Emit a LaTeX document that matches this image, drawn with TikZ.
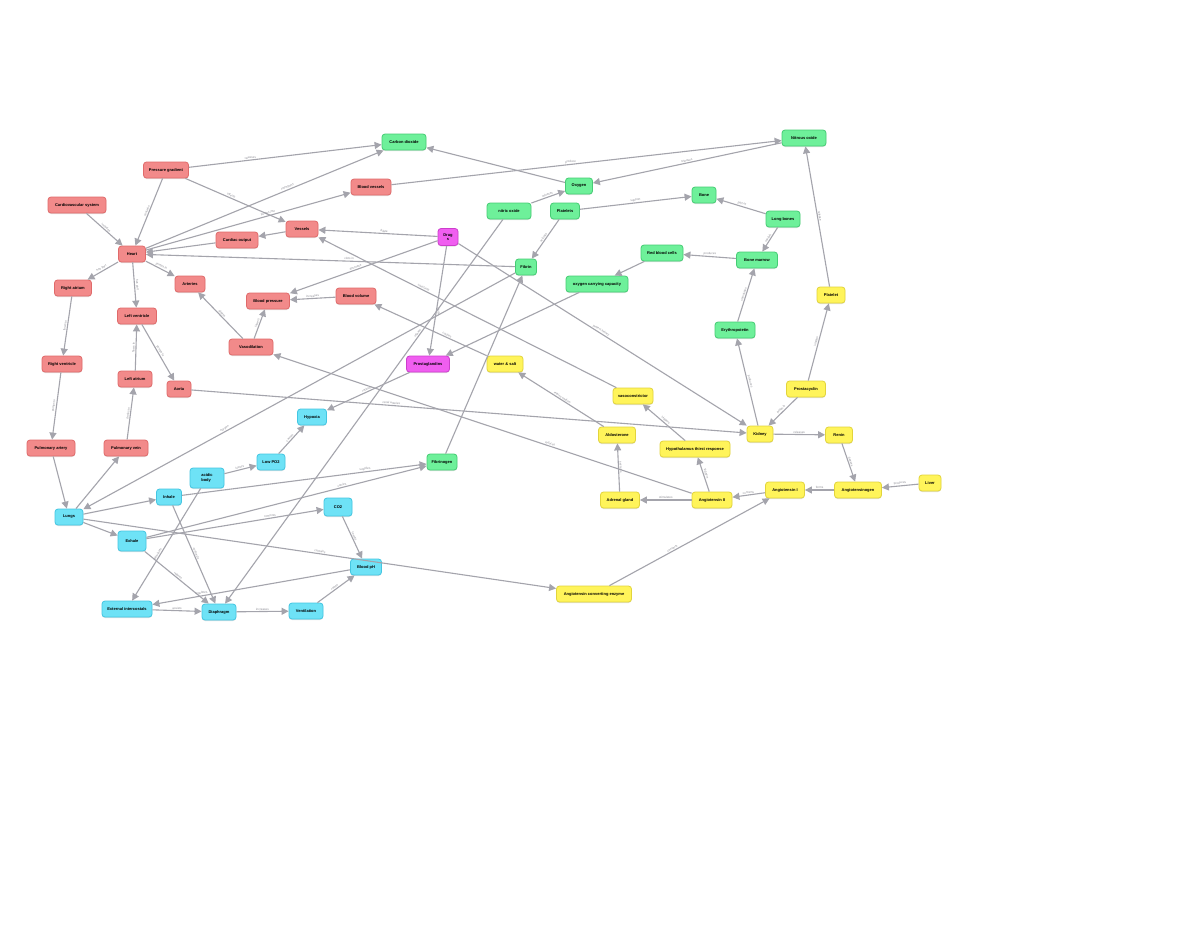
\documentclass[tikz,border=0pt]{standalone}
\usepackage{fontspec}
\setmainfont{Liberation Sans}
\usetikzlibrary{arrows.meta,shadows}
\definecolor{redf}{HTML}{F28A8A}
\definecolor{redd}{HTML}{E06A6A}
\definecolor{grnf}{HTML}{6EF09A}
\definecolor{grnd}{HTML}{46CC74}
\definecolor{yelf}{HTML}{FFF45A}
\definecolor{yeld}{HTML}{E2D43C}
\definecolor{cyaf}{HTML}{6EE2F6}
\definecolor{cyad}{HTML}{44C6E2}
\definecolor{magf}{HTML}{F05EF0}
\definecolor{magd}{HTML}{CC3ECC}
\definecolor{edgec}{HTML}{A4A4AC}
\definecolor{labc}{HTML}{8C8C94}
\begin{document}
\begin{tikzpicture}[x=0.5pt,y=-0.5pt,
 box/.style={rectangle,rounded corners=1.5pt,line width=0.4pt,minimum height=8pt,inner sep=0.5pt,
   font=\fontsize{2}{2.3}\selectfont\bfseries,text=black,align=center,
   drop shadow={shadow xshift=0pt,shadow yshift=-0.5pt,fill=black,opacity=0.12}},
 rbox/.style={box,fill=redf,draw=redd},
 gbox/.style={box,fill=grnf,draw=grnd},
 ybox/.style={box,fill=yelf,draw=yeld},
 cbox/.style={box,fill=cyaf,draw=cyad},
 mbox/.style={box,fill=magf,draw=magd},
 con/.style={draw=edgec,line width=0.55pt,-{Triangle[length=3.5pt,width=3.5pt]}},
 lab/.style={sloped,above,font=\fontsize{1.5}{1.7}\selectfont,text=labc,inner sep=0.4pt}
]
\useasboundingbox (0,0) rectangle (1200,927);
\fill[white] (0,0) rectangle (1200,927);

% red nodes
\node[rbox,minimum width=22.5pt] (pc) at (166,170) {Pressure gradient};
\node[rbox,minimum width=29pt] (cvs) at (77,205) {Cardiovascular system};
\node[rbox,minimum width=13.5pt] (heart) at (132,254) {Heart};
\node[rbox,minimum width=18.5pt] (ra) at (73,288) {Right atrium};
\node[rbox,minimum width=15pt] (art) at (190,284) {Arteries};
\node[rbox,minimum width=21pt] (co) at (237,240) {Cardiac output};
\node[rbox,minimum width=16pt] (ves) at (302,229) {Vessels};
\node[rbox,minimum width=20pt] (bv) at (371,187) {Blood vessels};
\node[rbox,minimum width=21.5pt] (bp) at (268,301) {Blood pressure};
\node[rbox,minimum width=20pt] (bvol) at (356,296) {Blood volume};
\node[rbox,minimum width=22pt] (vd) at (251,347) {Vasodilation};
\node[rbox,minimum width=19.5pt] (lv) at (137,316) {Left ventricle};
\node[rbox,minimum width=20pt] (rv) at (62,364) {Right ventricle};
\node[rbox,minimum width=17pt] (la) at (135,379) {Left atrium};
\node[rbox,minimum width=12pt] (ao) at (179,389) {Aorta};
\node[rbox,minimum width=24pt] (pa) at (51,448) {Pulmonary artery};
\node[rbox,minimum width=22pt] (pv) at (126,448) {Pulmonary vein};

% magenta nodes
\node[mbox,minimum width=10pt,minimum height=8.5pt] (drugs) at (448,237) {Drug\\s};
\node[mbox,minimum width=21.5pt] (prost) at (428,364) {Prostaglandins};

% green nodes
\node[gbox,minimum width=22pt] (co2) at (404,142) {Carbon dioxide};
\node[gbox,minimum width=22pt] (no2) at (804,138) {Nitrous oxide};
\node[gbox,minimum width=13.5pt] (oxy) at (579,186) {Oxygen};
\node[gbox,minimum width=22pt] (nio) at (509,211) {nitric oxide};
\node[gbox,minimum width=14.5pt] (plt) at (565,211) {Platelets};
\node[gbox,minimum width=12pt] (bone) at (704,195) {Bone};
\node[gbox,minimum width=10.5pt] (fib) at (526,267) {Fibrin};
\node[gbox,minimum width=21pt] (rbc) at (662,253) {Red blood cells};
\node[gbox,minimum width=31pt] (occ) at (597,284) {oxygen carrying capacity};
\node[gbox,minimum width=17pt] (lb) at (783,219) {Long bones};
\node[gbox,minimum width=20.5pt] (bm) at (757,260) {Bone marrow};
\node[gbox,minimum width=20pt] (epo) at (735,330) {Erythropoietin};
\node[gbox,minimum width=15pt] (fbg) at (442,462) {Fibrinogen};

% yellow nodes
\node[ybox,minimum width=14pt] (ypl) at (831,295) {Platelet};
\node[ybox,minimum width=19.5pt] (pgl) at (806,389) {Prostacyclin};
\node[ybox,minimum width=13pt] (kid) at (760,434) {Kidney};
\node[ybox,minimum width=13.5pt] (ren) at (839,435) {Renin};
\node[ybox,minimum width=18pt] (ws) at (505,364) {water \& salt};
\node[ybox,minimum width=20pt] (vc) at (633,396) {vasoconstrictor};
\node[ybox,minimum width=18.5pt] (ald) at (617,435) {Aldosterone};
\node[ybox,minimum width=35pt] (hyp) at (695,449) {Hypothalamus thirst response};
\node[ybox,minimum width=19.5pt] (adr) at (620,500) {Adrenal gland};
\node[ybox,minimum width=20pt] (a2) at (712,500) {Angiotensin II};
\node[ybox,minimum width=19.5pt] (a1) at (785,490) {Angiotensin I};
\node[ybox,minimum width=23.5pt] (agt) at (858,490) {Angiotensinogen};
\node[ybox,minimum width=11pt] (liv) at (930,483) {Liver};
\node[ybox,minimum width=37.5pt] (ace) at (594,594) {Angiotensin converting enzyme};

% cyan nodes
\node[cbox,minimum width=14.5pt] (hpx) at (312,417) {Hypoxia};
\node[cbox,minimum width=14pt] (lpo) at (271,462) {Low PO2};
\node[cbox,minimum width=17pt,minimum height=10pt,align=left] (acid) at (207,478) {acidic\\body};
\node[cbox,minimum width=12.5pt] (inh) at (169,497) {Inhale};
\node[cbox,minimum width=14pt] (lungs) at (69,517) {Lungs};
\node[cbox,minimum width=14pt,minimum height=9pt] (pco) at (338,507) {CO2};
\node[cbox,minimum width=14pt,minimum height=10pt] (exh) at (132,541) {Exhale};
\node[cbox,minimum width=15.5pt] (ph) at (366,567) {Blood pH};
\node[cbox,minimum width=17pt] (vent) at (306,611) {Ventilation};
\node[cbox,minimum width=17pt] (dia) at (219,612) {Diaphragm};
\node[cbox,minimum width=25pt] (icm) at (127,609) {External intercostals};

% connectors
\draw[con] (pc) -- node[lab,pos=0.32]{releases} (co2);
\draw[con] (pc) -- node[lab]{contains} (heart);
\draw[con] (pc) -- node[lab,pos=0.45]{affects} (ves);
\draw[con] (cvs) -- node[lab]{includes} (heart);
\draw[con] (heart) -- node[lab,pos=0.6]{transports} (co2);
\draw[con] (heart) -- node[lab,pos=0.6]{pumps into} (bv);
\draw[con] (co) -- (heart);
\draw[con] (ves) -- (co);
\draw[con] (fib) -- node[lab,pos=0.45]{clots in} (heart);
\draw[con] (heart) -- node[lab]{has part} (ra);
\draw[con] (heart) -- node[lab]{pumps to} (art);
\draw[con] (heart) -- node[lab]{has part} (lv);
\draw[con] (ra) -- node[lab]{flows to} (rv);
\draw[con] (rv) -- node[lab]{pumps to} (pa);
\draw[con] (pa) -- (lungs);
\draw[con] (lungs) -- (pv);
\draw[con] (pv) -- node[lab]{drains to} (la);
\draw[con] (la) -- node[lab]{flows to} (lv);
\draw[con] (lv) -- node[lab]{pumps to} (ao);
\draw[con] (ao) -- node[lab,pos=0.36]{renal arteries} (kid);
\draw[con] (vd) -- node[lab]{dilates} (art);
\draw[con] (vd) -- node[lab]{lowers} (bp);
\draw[con] (bvol) -- node[lab]{increases} (bp);
\draw[con] (drugs) -- node[lab,pos=0.55]{decrease} (bp);
\draw[con] (drugs) -- node[lab,pos=0.45]{dilate} (ves);
\draw[con] (drugs) -- node[lab,pos=0.6,sloped=false,rotate=-82]{inhibit} (prost);
\draw[con] (drugs) -- node[lab,pos=0.49]{protect kidney} (kid);
\draw[con] (vc) -- node[lab,pos=0.65]{constricts} (ves);
\draw[con] (ws) -- node[lab,pos=0.36]{causes} (bvol);
\draw[con] (occ) -- (prost);
\draw[con] (prost) -- node[lab]{relieves} (hpx);
\draw[con] (lpo) -- node[lab]{causes} (hpx);
\draw[con] (acid) -- node[lab]{lowers} (lpo);
\draw[con] (inh) -- node[lab,pos=0.75]{supplies} (fbg);
\draw[con] (exh) -- node[lab,pos=0.7]{carries} (fbg);
\draw[con] (exh) -- node[lab,pos=0.7]{removes} (pco);
\draw[con] (fib) -- node[lab,pos=0.67]{oxygen} (lungs);
\draw[con] (lungs) -- (exh);
\draw[con] (lungs) -- (inh);
\draw[con] (lungs) -- node[lab,pos=0.5]{contains} (ace);
\draw[con] (exh) -- node[lab]{relaxes} (dia);
\draw[con] (inh) -- node[lab]{contracts} (dia);
\draw[con] (icm) -- node[lab]{assists} (dia);
\draw[con] (acid) -- node[lab,pos=0.6]{stimulates} (icm);
\draw[con] (ph) -- node[lab,pos=0.75]{regulates} (icm);
\draw[con] (dia) -- node[lab]{increases} (vent);
\draw[con] (vent) -- node[lab]{raises} (ph);
\draw[con] (pco) -- node[lab]{lowers} (ph);
\draw[con] (fbg) -- (fib);
\draw[con] (nio) -- node[lab,pos=0.3]{relaxes} (dia);
\draw[con] (plt) -- node[lab]{activate} (fib);
\draw[con] (nio) -- node[lab]{releases} (oxy);
\draw[con] (oxy) -- (co2);
\draw[con] (no2) -- node[lab]{releases} (oxy);
\draw[con] (bv) -- node[lab,pos=0.46]{produce} (no2);
\draw[con] (plt) -- node[lab]{support} (bone);
\draw[con] (lb) -- node[lab]{part of} (bone);
\draw[con] (lb) -- node[lab]{contain} (bm);
\draw[con] (bm) -- node[lab]{produces} (rbc);
\draw[con] (rbc) -- (occ);
\draw[con] (epo) -- node[lab]{stimulates} (bm);
\draw[con] (kid) -- node[lab]{produces} (epo);
\draw[con] (pgl) -- node[lab]{protects} (kid);
\draw[con] (pgl) -- node[lab]{inhibits} (ypl);
\draw[con] (ypl) -- node[lab]{release} (no2);
\draw[con] (kid) -- node[lab]{releases} (ren);
\draw[con] (ren) -- node[lab]{cleaves} (agt);
\draw[con] (liv) -- node[lab]{produces} (agt);
\draw[con] (agt) -- node[lab]{forms} (a1);
\draw[con] (a1) -- node[lab]{converts} (a2);
\draw[con] (ace) -- node[lab,pos=0.4]{converts} (a1);
\draw[con] (a2) -- node[lab]{stimulates} (adr);
\draw[con] (adr) -- node[lab]{secretes} (ald);
\draw[con] (a2) -- node[lab]{triggers} (hyp);
\draw[con] (a2) -- node[lab,pos=0.34]{reduces} (vd);
\draw[con] (hyp) -- node[lab]{triggers} (vc);
\draw[con] (ald) -- node[lab]{retains sodium} (ws);
\end{tikzpicture}
\end{document}
